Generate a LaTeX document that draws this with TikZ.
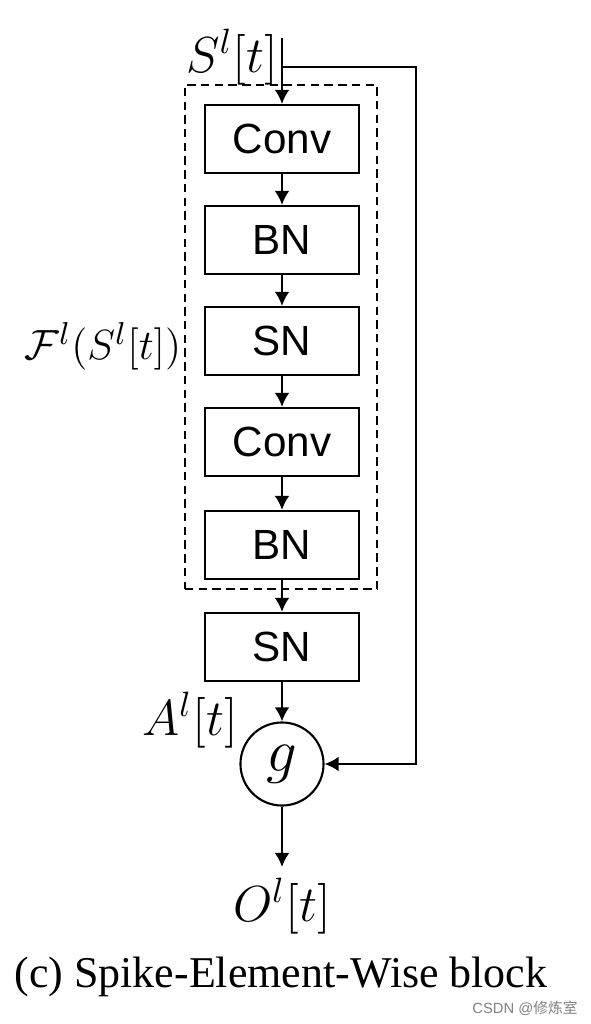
\documentclass[tikz,border=0pt]{standalone}
\usepackage{fontspec}
\setmainfont{Liberation Serif}
\newfontfamily\boxfont{Liberation Sans}
\newfontfamily\cjkfont{Noto Sans CJK SC}
\usetikzlibrary{positioning,arrows.meta}

\tikzset{
  blk/.style={draw,line width=0.6pt,minimum width=1.54cm,minimum height=0.68cm,inner sep=0pt,font=\boxfont\fontsize{12}{14}\selectfont},
  lbl/.style={inner sep=0pt,font=\fontsize{14.5}{17}\selectfont},
  flow/.style={-{Latex[length=4pt,width=4.2pt]},line width=0.6pt,draw=black},
}

\begin{document}
\begin{tikzpicture}[x=0.01cm,y=-0.01cm]
  \useasboundingbox (0,0) rectangle (590,1024);

  % residual function
  \node[draw,dashed,line width=0.6pt,dash pattern=on 2.4pt off 1.5pt,minimum width=1.92cm,minimum height=5.04cm,inner sep=0pt] (Fbox) at (281,337) {};
  \node[blk] (CoOne) at (282,139) {Conv};
  \node[blk] (BnOne) at (282,240) {BN};
  \node[blk] (SnOne) at (282,341) {SN};
  \node[blk] (CoTwo) at (282,442) {Conv};
  \node[blk] (BnTwo) at (282,545) {BN};
  \node[blk] (SnTwo) at (282,647) {SN};

  \node[lbl,anchor=east,font=\fontsize{13.2}{16}\selectfont] (Fl) at (182,346) {$\mathcal{F}^l(S^l[t])$};

  % input and shortcut
  \coordinate (In) at (282,38);
  \coordinate (Sp) at (282,67);
  \coordinate (Fb) at (416,67);
  \node[lbl,anchor=east] (Sl) at (279,57) {$S^l[t]$};

  \draw[flow] (In) to (CoOne);
  \draw[flow] (CoOne) to (BnOne);
  \draw[flow] (BnOne) to (SnOne);
  \draw[flow] (SnOne) to (CoTwo);
  \draw[flow] (CoTwo) to (BnTwo);
  \draw[flow] (BnTwo) to (SnTwo);

  % element-wise function
  \node[draw,circle,line width=0.6pt,minimum size=0.83cm,inner sep=0pt,font=\fontsize{18}{20}\selectfont] (g) at (282,764) {$g$};
  \node[lbl] (Al) at (190,720) {$A^l[t]$};
  \draw[flow] (SnTwo) to (g);
  \draw[flow] (Sp) -- (Fb) |- (g.east);

  \coordinate (Out) at (282,867);
  \draw[flow] (g) to (Out);
  \node[lbl] (Ol) at (282,906) {$O^l[t]$};

  % caption
  \node[font=\fontsize{12.5}{15}\selectfont] (Cap) at (281,977) {(c) Spike-Element-Wise block};
  \node[text=gray,font=\boxfont\fontsize{4.2}{5}\selectfont] (Wm) at (525,1008) {CSDN @{\cjkfont 修炼室}};

\end{tikzpicture}
\end{document}
